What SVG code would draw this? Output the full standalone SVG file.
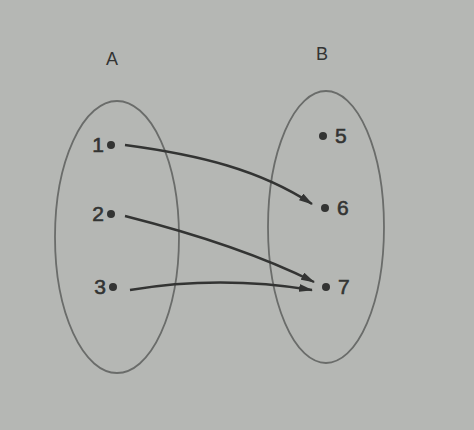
<svg xmlns="http://www.w3.org/2000/svg" width="474" height="430" viewBox="0 0 474 430">
<defs>
<marker id="ah" viewBox="0 0 14 8" refX="13" refY="4" markerWidth="14" markerHeight="8" markerUnits="userSpaceOnUse" orient="auto">
<path d="M0,0 L14,4 L0,8 Z" fill="#333433"/>
</marker>
<style>
.set{fill:none;stroke:#6a6c6a;stroke-width:1.8}
.dot{fill:#333433}
.lbl{font-family:"Liberation Sans",Arial,sans-serif;font-size:21px;fill:#333433;stroke:#333433;stroke-width:0.6}
.title{font-family:"Liberation Sans",Arial,sans-serif;font-size:18px;fill:#333433}
.arr{fill:none;stroke:#333433;stroke-width:2.4;marker-end:url(#ah)}
</style>
</defs>
<rect width="474" height="430" fill="#b5b7b4"/>
<g id="setA">
<ellipse class="set" cx="117" cy="237" rx="62" ry="136"/>
<text class="title" x="112" y="65" text-anchor="middle">A</text>
</g>
<g id="setB">
<ellipse class="set" cx="326" cy="227" rx="58" ry="136"/>
<text class="title" x="322" y="60" text-anchor="middle">B</text>
</g>
<g id="n1"><circle class="dot" cx="111" cy="145" r="4"/><text class="lbl" x="104" y="152" text-anchor="end">1</text></g>
<g id="n2"><circle class="dot" cx="111" cy="214" r="4"/><text class="lbl" x="104" y="221" text-anchor="end">2</text></g>
<g id="n3"><circle class="dot" cx="113" cy="287" r="4"/><text class="lbl" x="106" y="294" text-anchor="end">3</text></g>
<g id="n5"><circle class="dot" cx="323" cy="136" r="4"/><text class="lbl" x="335" y="143">5</text></g>
<g id="n6"><circle class="dot" cx="325" cy="208" r="4"/><text class="lbl" x="337" y="215">6</text></g>
<g id="n7"><circle class="dot" cx="326" cy="287" r="4"/><text class="lbl" x="338" y="294">7</text></g>
<g id="connectors">
<path class="arr" d="M125,145 C200,155 260,170 312,204"/>
<path class="arr" d="M125,216 C200,235 260,255 314,282"/>
<path class="arr" d="M130,290 C190,280 250,280 312,290"/>
</g>
</svg>
